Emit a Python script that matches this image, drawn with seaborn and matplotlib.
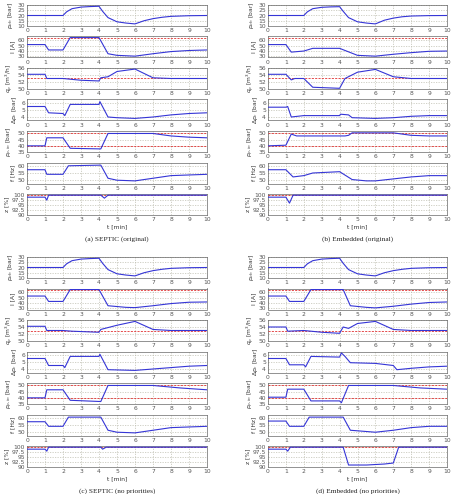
import numpy as np
import pandas as pd
import matplotlib
matplotlib.use("Agg")
import matplotlib.pyplot as plt
import seaborn as sns

# ---------------- data (knots) ----------------
CAPTIONS = ["(a) SEPTIC (original)", "(b) Embedded (original)",
            "(c) SEPTIC (no priorities)", "(d) Embedded (no priorities)"]
YLABELS = [r"$p_{bh}$ [bar]", "I [A]", r"$q_p$ [m$^3$/h]", r"$\Delta p_c$ [bar]",
           r"$p_{p,in}$ [bar]", "f [Hz]", "z [%]"]
YTICKS = [[10, 15, 20, 25, 30], [30, 40, 50, 60], [50, 52, 54, 56], [4, 5, 6],
          [35, 40, 45, 50], [50, 55, 60], [90, 92.5, 95, 97.5, 100]]
YLIMS = [(10, 30), (28, 67), (50, 56), (3.5, 6.5), (35, 52), (47, 63), (90, 100.6)]
LIMITS = [[], [65], [53], [], [40, 50], [], [100]]
XTICKS = [0, 1, 2, 3, 4, 5, 6, 7, 8, 9, 10]

# p_bh
T_PBH_A = [0, 2, 2.2, 2.5, 3, 3.5, 4, 4.2, 4.5, 5, 5.5, 6, 6.5, 7, 7.5, 8, 9, 10]
PBH_A = [20, 20, 23.5, 26.5, 28, 28.5, 28.8, 24, 18, 14, 12.8, 12, 15, 17, 18.3, 19.2, 19.8, 20]
T_PBH_B = [0, 2, 2.2, 2.5, 3, 3.5, 4, 4.2, 4.5, 5, 5.5, 6, 6.5, 7, 7.5, 8, 9, 10]
PBH_B = [20, 20, 23.5, 26.5, 27.8, 28.2, 28.4, 24, 18, 14, 12.8, 12, 15.5, 17.5, 18.8, 19.5, 19.9, 20]
T_PBH_C = [0, 2, 2.2, 2.5, 3, 3.5, 4, 4.2, 4.5, 5, 5.5, 6, 6.5, 7, 7.5, 8, 9, 10]
PBH_C = [20, 20, 23.5, 26.5, 28, 28.5, 28.8, 24, 18, 14, 12.8, 12, 15, 17, 18.3, 19.2, 19.8, 20]
T_PBH_D = [0, 2, 2.2, 2.5, 3, 3.5, 4, 4.2, 4.5, 5, 5.5, 6, 6.5, 7, 7.5, 8, 9, 10]
PBH_D = [20, 20, 23.5, 26.5, 28, 28.5, 28.8, 24, 18, 14, 12.8, 12, 15, 17, 18.3, 19.2, 19.8, 20]

# I
T_I_A = [0, 1, 1.2, 2, 2.4, 4, 4.5, 5, 6, 7, 8, 9, 10]
I_A = [52, 52, 42, 42, 65, 65, 35, 32, 30.5, 35, 39, 41, 42]
T_I_B = [0, 1, 1.3, 2, 2.5, 4, 5, 6, 7, 8, 9, 10]
I_B = [52, 52, 38, 40, 45, 45, 32, 30.5, 34, 37, 39.5, 40]
T_I_C = [0, 1, 1.2, 2, 2.4, 4, 4.5, 5.5, 6, 7, 8, 9, 10]
I_C = [53, 53, 43, 43, 65, 65, 35, 32, 31.5, 35, 39, 41.5, 42]
T_I_D = [0, 1, 1.2, 2, 2.4, 4.2, 4.6, 5.5, 6, 7, 8, 9, 10]
I_D = [53, 53, 43, 43, 65, 65, 35, 32, 31, 34, 38, 41, 42]

# q_p
T_QP_A = [0, 1, 1.1, 2, 3, 4, 4.1, 4.5, 5, 6, 7, 8, 10]
QP_A = [54.2, 54.2, 53, 53, 52.5, 52.3, 53.2, 53.5, 55, 55.7, 53.2, 53, 53]
T_QP_B = [0, 1, 1.3, 1.5, 2, 2.5, 4, 4.3, 5, 6, 7, 8, 10]
QP_B = [54.2, 54.2, 52.6, 53, 53, 50.5, 50.2, 53, 54.8, 55.6, 53.5, 53, 53]
T_QP_C = [0, 1, 1.1, 2, 2.5, 4, 4.1, 5, 6, 7, 8, 10]
QP_C = [54.2, 54.2, 53, 53, 52.8, 52.5, 53.3, 54.5, 55.6, 53.3, 53, 53]
T_QP_D = [0, 1, 1.1, 2, 3, 4, 4.2, 4.5, 5, 6, 7, 8, 10]
QP_D = [54, 54, 52.8, 53, 52.5, 52.2, 54, 53.6, 55, 55.6, 53.3, 53, 53]

# delta p_c
T_DP_A = [0, 1, 1.2, 2, 2.1, 2.4, 4, 4.05, 4.5, 5, 6, 7, 8, 9, 10]
DP_A = [5.5, 5.5, 4.6, 4.5, 4.2, 5.8, 5.8, 6.2, 4.0, 3.9, 3.8, 4.0, 4.3, 4.5, 4.6]
T_DP_B = [0, 1, 1.1, 1.3, 2, 4, 4.05, 4.5, 4.7, 6, 7, 8, 9, 10]
DP_B = [5.4, 5.4, 5.5, 4.0, 4.2, 4.2, 4.4, 4.3, 3.9, 3.8, 3.9, 4.1, 4.2, 4.2]
T_DP_C = [0, 1, 1.2, 2, 2.1, 2.4, 4, 4.05, 4.5, 6, 7.5, 9, 10]
DP_C = [5.5, 5.5, 4.5, 4.5, 4.2, 5.8, 5.8, 6.1, 3.9, 3.8, 4.1, 4.4, 4.5]
T_DP_D = [0, 1, 1.2, 2, 2.1, 2.4, 4, 4.1, 4.3, 4.6, 6, 7, 7.2, 8, 9, 10]
DP_D = [5.5, 5.5, 4.6, 4.6, 4.3, 5.8, 5.7, 6.3, 5.8, 4.9, 4.8, 4.5, 3.9, 4.1, 4.3, 4.4]

# p_p,in
T_PIN_A = [0, 1, 1.1, 2, 2.4, 4.1, 4.5, 7, 8, 9, 10]
PIN_A = [40, 40, 46.5, 46.5, 38, 37.5, 50, 50, 48, 47, 46.5]
T_PIN_B = [0, 1, 1.3, 1.6, 4.3, 4.5, 4.7, 7, 8, 9, 10]
PIN_B = [40, 40.5, 49.5, 48, 48, 48.5, 50.5, 50.5, 48.5, 48, 48]
T_PIN_C = [0, 1, 1.1, 2, 2.4, 4.1, 4.5, 7, 8.5, 10]
PIN_C = [40, 40, 46.5, 46.5, 38, 37, 50, 50, 48, 46.5]
T_PIN_D = [0, 1, 1.1, 2, 2.4, 4, 4.1, 4.5, 7, 8.5, 10]
PIN_D = [40.5, 40.5, 47, 47, 37.5, 37.5, 36, 50, 50, 48, 47]

# f
T_F_A = [0, 1, 1.1, 2, 2.3, 4.1, 4.5, 5, 6, 7, 8, 9, 10]
F_A = [57.5, 57.5, 54, 54, 60.5, 61, 51, 49.5, 49, 51, 53, 53.5, 54]
T_F_B = [0, 1, 1.4, 2, 2.5, 4, 4.7, 5.5, 6, 7, 8, 9, 10]
F_B = [57.5, 57.5, 52, 53, 55, 56, 50, 49, 49, 50.5, 52, 53, 53]
T_F_C = [0, 1, 1.2, 2, 2.3, 4.1, 4.5, 5, 6, 7, 8, 9, 10]
F_C = [57.5, 57.5, 54, 54, 61, 61, 51, 49.5, 49, 51, 53, 53.5, 54]
T_F_D = [0, 1, 1.2, 2, 2.3, 4.2, 4.6, 6, 7, 8, 9, 10]
F_D = [58, 58, 54, 54, 61, 61, 51, 49.5, 51, 53, 54, 54]

# z
T_Z_A = [0, 1, 1.1, 1.2, 4.1, 4.3, 4.5, 10]
Z_A = [99, 99, 97.5, 100, 100, 98.5, 100, 100]
T_Z_B = [0, 1, 1.2, 1.4, 10]
Z_B = [99, 99, 96, 100, 100]
T_Z_C = [0, 1, 1.1, 1.2, 4.1, 4.2, 4.4, 10]
Z_C = [99, 99, 98, 100, 100, 99, 100, 100]
T_Z_D = [0, 1, 1.1, 1.25, 4.2, 4.5, 5.5, 6.5, 7, 7.3, 10]
Z_D = [99, 99, 98, 100, 100, 91, 91, 91.5, 92, 100, 100]

PANELS = [
    [(T_PBH_A, PBH_A), (T_I_A, I_A), (T_QP_A, QP_A), (T_DP_A, DP_A), (T_PIN_A, PIN_A), (T_F_A, F_A), (T_Z_A, Z_A)],
    [(T_PBH_B, PBH_B), (T_I_B, I_B), (T_QP_B, QP_B), (T_DP_B, DP_B), (T_PIN_B, PIN_B), (T_F_B, F_B), (T_Z_B, Z_B)],
    [(T_PBH_C, PBH_C), (T_I_C, I_C), (T_QP_C, QP_C), (T_DP_C, DP_C), (T_PIN_C, PIN_C), (T_F_C, F_C), (T_Z_C, Z_C)],
    [(T_PBH_D, PBH_D), (T_I_D, I_D), (T_QP_D, QP_D), (T_DP_D, DP_D), (T_PIN_D, PIN_D), (T_F_D, F_D), (T_Z_D, Z_D)],
]

# ---------------- drawing ----------------
sns.set_theme(style="white")
plt.rcParams["font.family"] = ["DejaVu Sans"]
plt.rcParams["font.size"] = 4.3
plt.rcParams["mathtext.fontset"] = "dejavusans"

W, H = 474, 494
fig = plt.figure(figsize=(W / 100, H / 100), dpi=100)

COL_X = [(27, 207), (268, 447)]
ROW_Y0 = [5, 257]
STEP = 31.5
AX_H = 21
BLUE = "#3535d6"

for p, series in enumerate(PANELS):
    cx0, cx1 = COL_X[p % 2]
    y0 = ROW_Y0[p // 2]
    for i, (t, v) in enumerate(series):
        top = y0 + i * STEP
        ax = fig.add_axes([cx0 / W, 1 - (top + AX_H) / H, (cx1 - cx0) / W, AX_H / H])
        df = pd.DataFrame({"t": t, "v": v})
        for lim in LIMITS[i]:
            ax.axhline(lim, color="#e03030", ls=(0, (2.5, 1.5)), lw=0.6, zorder=3)
        sns.lineplot(data=df, x="t", y="v", ax=ax, color=BLUE, lw=0.8, zorder=4,
                     estimator=None, sort=False)
        ax.set_xlim(0, 10)
        ax.set_ylim(*YLIMS[i])
        ax.set_xticks(XTICKS)
        ax.set_yticks(YTICKS[i])
        ax.set_yticklabels([("%g" % y) for y in YTICKS[i]])
        ax.grid(True, color="#b8b8a8", ls=(0, (2, 2)), lw=0.45)
        ax.tick_params(axis="both", labelsize=4.3, length=1.5, width=0.4, pad=1.5,
                       direction="in", colors="#555555")
        for s in ax.spines.values():
            s.set_color("#666666")
            s.set_linewidth(0.5)
        ax.set_ylabel(YLABELS[i], fontsize=4.3, labelpad=1.5, color="#333333")
        if i == len(series) - 1:
            ax.set_xlabel("t [min]", fontsize=4.3, labelpad=1.5, color="#333333")
        else:
            ax.set_xlabel("")
    cap_y = y0 + 6 * STEP + AX_H + 24
    fig.text((cx0 + cx1) / 2 / W, 1 - cap_y / H, CAPTIONS[p], ha="center", va="center",
             fontsize=5.2, family="Liberation Serif", color="#222222")

fig.savefig("out.png", dpi=100)
